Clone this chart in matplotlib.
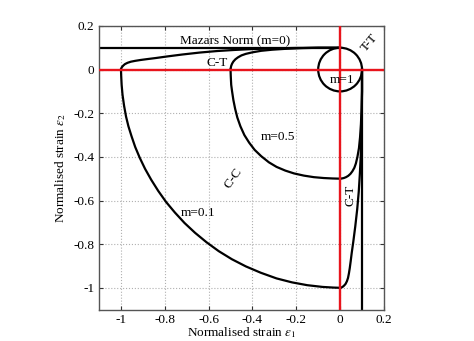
import numpy as np
import matplotlib
matplotlib.use("Agg")
import matplotlib.pyplot as plt
from matplotlib.patches import Circle

plt.rcParams['font.family'] = 'serif'
plt.rcParams['font.serif'] = ['Liberation Serif', 'DejaVu Serif']
plt.rcParams['mathtext.fontset'] = 'stix'
plt.rcParams['axes.unicode_minus'] = False

# threshold (T-T circle radius, shared by every norm)
kappa0 = 0.1

# m=0.1 : C-T branch (eps1 < 0, eps2 > 0) and C-C arc
ct01_x = [-1.0, -0.999, -0.996, -0.99, -0.982, -0.97, -0.955, -0.935, -0.91, -0.88, -0.84, -0.79,
          -0.72, -0.64, -0.56, -0.48, -0.4, -0.3, -0.2, -0.1, 0.0]
ct01_y = [0.0, 0.005, 0.011, 0.018, 0.025, 0.031, 0.036, 0.04, 0.044, 0.048, 0.053, 0.06,
          0.069, 0.078, 0.085, 0.09, 0.094, 0.097, 0.099, 0.1, 0.1]
cc01_x = [-1.0, -0.999, -0.997, -0.993, -0.986, -0.977, -0.966, -0.952, -0.935, -0.914, -0.89, -0.862,
          -0.83, -0.794, -0.754, -0.71, -0.662, -0.61, -0.554, -0.494, -0.43, -0.362, -0.29, -0.22, -0.15,
          -0.08, -0.03, 0.0]
cc01_y = [0.0, -0.03, -0.07, -0.115, -0.165, -0.215, -0.26, -0.305, -0.355, -0.405, -0.455, -0.505,
          -0.556, -0.607, -0.655, -0.703, -0.748, -0.791, -0.832, -0.869, -0.902, -0.931, -0.957, -0.975, -0.988,
          -0.996, -0.999, -1.0]

# m=0.5
ct05_x = [-0.5, -0.499, -0.497, -0.493, -0.487, -0.478, -0.466, -0.45, -0.43, -0.4, -0.36, -0.31,
          -0.25, -0.18, -0.1, 0.0]
ct05_y = [0.0, 0.008, 0.017, 0.027, 0.037, 0.047, 0.056, 0.065, 0.072, 0.079, 0.086, 0.091,
          0.095, 0.098, 0.1, 0.1]
cc05_x = [-0.5, -0.499, -0.497, -0.493, -0.487, -0.479, -0.469, -0.455, -0.437, -0.415, -0.39, -0.36,
          -0.325, -0.29, -0.25, -0.21, -0.165, -0.12, -0.075, -0.035, 0.0]
cc05_y = [0.0, -0.03, -0.07, -0.1, -0.14, -0.18, -0.22, -0.26, -0.3, -0.335, -0.368, -0.397,
          -0.425, -0.446, -0.463, -0.476, -0.486, -0.493, -0.497, -0.499, -0.5]

# m=0 (Mazars norm) straight parts
maz_top_x = [-1.1, 0.0]
maz_top_y = [0.1, 0.1]
maz_right_x = [0.1, 0.1]
maz_right_y = [0.0, -1.1]

ticks = [-1, -0.8, -0.6, -0.4, -0.2, 0, 0.2]
tick_labels = ['-1', '-0.8', '-0.6', '-0.4', '-0.2', '0', '0.2']

fig = plt.figure(figsize=(4.74, 3.41), dpi=100)
ax = fig.add_axes([0.209, 0.092, 0.601, 0.832])

lw = 1.6
ax.axhline(0, color='#e8141c', lw=1.7, zorder=3)
ax.axvline(0, color='#e8141c', lw=1.7, zorder=3)

# m=1 circle (also the T-T part of all the other norms)
ax.add_patch(Circle((0, 0), kappa0, fill=False, ec='black', lw=lw, zorder=2))

ax.plot(maz_top_x, maz_top_y, color='black', lw=lw)
ax.plot(maz_right_x, maz_right_y, color='black', lw=lw)

for ctx, cty, ccx, ccy in [(ct01_x, ct01_y, cc01_x, cc01_y), (ct05_x, ct05_y, cc05_x, cc05_y)]:
    ax.plot(ctx, cty, color='black', lw=lw, solid_joinstyle='round')
    ax.plot(cty, ctx, color='black', lw=lw, solid_joinstyle='round')   # symmetric C-T branch (eps1 > 0)
    ax.plot(ccx, ccy, color='black', lw=lw, solid_joinstyle='round')

fs = 9.5
ax.text(-0.477, 0.13, 'Mazars Norm (m=0)', ha='center', va='center', fontsize=fs)
ax.text(-0.563, 0.03, 'C-T', ha='center', va='center', fontsize=fs)
ax.text(0.134, 0.124, 'T-T', ha='center', va='center', fontsize=fs, rotation=50)
ax.text(0.01, -0.05, 'm=1', ha='center', va='center', fontsize=fs)
ax.text(-0.283, -0.308, 'm=0.5', ha='center', va='center', fontsize=fs)
ax.text(-0.488, -0.499, 'C-C', ha='center', va='center', fontsize=fs, rotation=55)
ax.text(-0.65, -0.655, 'm=0.1', ha='center', va='center', fontsize=fs)
ax.text(0.047, -0.577, 'C-T', ha='center', va='center', fontsize=fs, rotation=90)

ax.set_xlim(-1.1, 0.2)
ax.set_ylim(-1.1, 0.2)
ax.set_xticks(ticks)
ax.set_xticklabels(tick_labels)
ax.set_yticks(ticks)
ax.set_yticklabels(tick_labels)
ax.tick_params(direction='in', top=True, right=True, length=3, width=0.8,
               labelsize=fs, colors='#333333', labelcolor='black')
ax.grid(True, linestyle=':', color='#b0b0b0', lw=0.8)
ax.set_axisbelow(True)
for s in ax.spines.values():
    s.set_color('#555555')
    s.set_linewidth(1.0)

ax.set_xlabel(r'Normalised strain $\varepsilon_1$', fontsize=fs, labelpad=-1)
ax.set_ylabel(r'Normalised strain $\varepsilon_2$', fontsize=fs, labelpad=4)

fig.savefig('out.png', dpi=100)
